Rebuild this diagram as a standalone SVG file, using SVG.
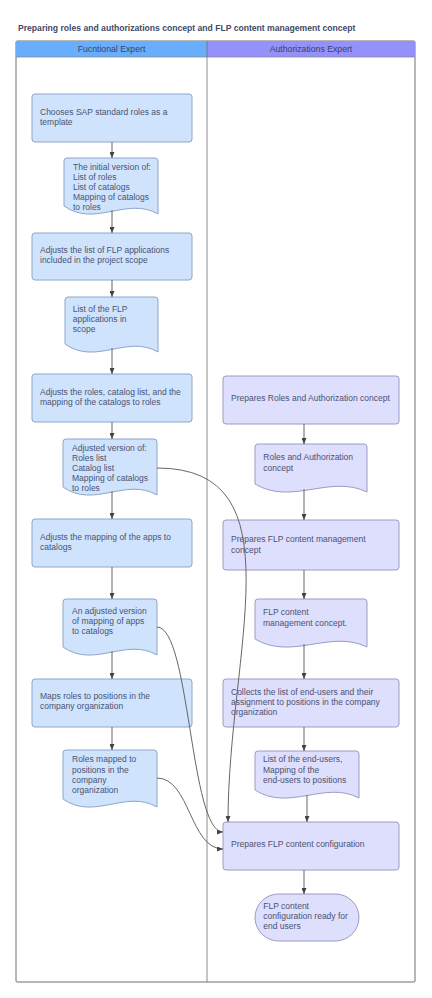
<svg xmlns="http://www.w3.org/2000/svg" width="432" height="998" viewBox="0 0 432 998">
<defs>
<marker id="ah" markerWidth="6" markerHeight="5" refX="6" refY="2.5" orient="auto" markerUnits="userSpaceOnUse"><path d="M0,0 L6,2.5 L0,5 z" fill="#444"/></marker>
</defs>
<style>
text{font-family:"Liberation Sans",Arial,sans-serif;font-size:8.5px;fill:#4a5373}
.title{font-weight:bold;font-size:8.6px;fill:#3e4a68}
.hdr{font-size:8.7px;text-anchor:middle;fill:#3a4362}
.pl{fill:#cfe3fd;stroke:#8ea6c8;stroke-width:1}
.pr{fill:#dedefd;stroke:#9c9cc4;stroke-width:1}
.cn{fill:none;stroke:#666;stroke-width:1;marker-end:url(#ah)}
</style>
<rect width="432" height="998" fill="#fff"/>
<text class="title" x="18" y="30.5">Preparing roles and authorizations concept and FLP content management concept</text>
<g id="lanes">
<rect x="16" y="41" width="399" height="941" rx="2" fill="#fff" stroke="#a0a0a0" stroke-width="1.5"/>
<path d="M16,57 V43 Q16,41 18,41 H207 V57 Z" fill="#68aefc"/>
<path d="M207,41 H413 Q415,41 415,43 V57 H207 Z" fill="#9391fa"/>
<path d="M16,57 H415" stroke="#8a8a8a" stroke-width="0.8"/>
<path d="M207,41 V982" stroke="#707070" stroke-width="0.8"/>
<text class="hdr" x="111.5" y="51.5">Fucntional Expert</text>
<text class="hdr" x="311" y="51.5">Authorizations Expert</text>
</g>
<g id="n1"><rect class="pl" x="32" y="94" width="160" height="48" rx="3"/><text x="40" y="114.7">Chooses SAP standard roles as a<tspan x="40" y="125">template</tspan></text></g>
<g id="n2"><path class="pl" d="M64,161 Q64,158 67,158 H155 Q158,158 158,161 V214 C127,196 95,228 64,206 Z"/><text x="73" y="169.5">The initial version of:<tspan x="73" y="179.7">List of roles</tspan><tspan x="73" y="189.9">List of catalogs</tspan><tspan x="73" y="200.1">Mapping of catalogs</tspan><tspan x="73" y="210.3">to roles</tspan></text></g>
<g id="n3"><rect class="pl" x="32" y="233" width="160" height="47" rx="3"/><text x="40" y="253">Adjusts the list of FLP applications<tspan x="40" y="263">included in the project scope</tspan></text></g>
<g id="n4"><path class="pl" d="M65,300 Q65,297 68,297 H155 Q158,297 158,300 V352 C127,334 96,366 65,344 Z"/><text x="72.7" y="312">List of the FLP<tspan x="72.7" y="322">applications in</tspan><tspan x="72.7" y="332">scope</tspan></text></g>
<g id="n5"><rect class="pl" x="32" y="374" width="160" height="48" rx="3"/><text x="40" y="394.7">Adjusts the roles, catalog list, and the<tspan x="40" y="404.7">mapping of the catalogs to roles</tspan></text></g>
<g id="n6"><path class="pl" d="M63,442 Q63,439 66,439 H154 Q157,439 157,442 V495 C126,477 94,509 63,487 Z"/><text x="72" y="450.5">Adjusted version of:<tspan x="72" y="460.7">Roles list</tspan><tspan x="72" y="470.9">Catalog list</tspan><tspan x="72" y="481.1">Mapping of catalogs</tspan><tspan x="72" y="491.3">to roles</tspan></text></g>
<g id="n7"><rect class="pl" x="32" y="519" width="160" height="48" rx="3"/><text x="40" y="539.7">Adjusts the mapping of the apps to<tspan x="40" y="549.7">catalogs</tspan></text></g>
<g id="n8"><path class="pl" d="M63,602 Q63,599 66,599 H154 Q157,599 157,602 V655 C126,637 94,669 63,647 Z"/><text x="72" y="613.7">An adjusted version<tspan x="72" y="624">of mapping of apps</tspan><tspan x="72" y="634">to catalogs</tspan></text></g>
<g id="n9"><rect class="pl" x="32" y="679" width="160" height="48" rx="3"/><text x="40" y="699">Maps roles to positions in the<tspan x="40" y="709">company organization</tspan></text></g>
<g id="n10"><path class="pl" d="M63,753 Q63,750 66,750 H154 Q157,750 157,753 V807 C126,789 94,821 63,799 Z"/><text x="72" y="762.3">Roles mapped to<tspan x="72" y="772.5">positions in the</tspan><tspan x="72" y="782.7">company</tspan><tspan x="72" y="792.9">organization</tspan></text></g>
<g id="r1"><rect class="pr" x="223" y="376" width="176" height="48" rx="3"/><text x="231" y="401.3">Prepares Roles and Authorization concept</text></g>
<g id="r2"><path class="pr" d="M255,447 Q255,444 258,444 H364 Q367,444 367,447 V492 C330,474 292,506 255,484 Z"/><text x="263.3" y="460.3">Roles and Authorization<tspan x="263.3" y="470.5">concept</tspan></text></g>
<g id="r3"><rect class="pr" x="223" y="520" width="176" height="50" rx="3"/><text x="231" y="542.3">Prepares FLP content management<tspan x="231" y="552.5">concept</tspan></text></g>
<g id="r4"><path class="pr" d="M255,602 Q255,599 258,599 H364 Q367,599 367,602 V647 C330,629 292,661 255,639 Z"/><text x="263" y="615.3">FLP content<tspan x="263" y="625.5">management concept.</tspan></text></g>
<g id="r5"><rect class="pr" x="223" y="679" width="176" height="48" rx="3"/><text x="231" y="694.7">Collects the list of end-users and their<tspan x="231" y="704.9">assignment to positions in the company</tspan><tspan x="231" y="715.1">organization</tspan></text></g>
<g id="r6"><path class="pr" d="M255,754 Q255,751 258,751 H356 Q359,751 359,754 V798 C325,780 289,812 255,790 Z"/><text x="263" y="762.3">List of the end-users,<tspan x="263" y="772.5">Mapping of the</tspan><tspan x="263" y="782.7">end-users to positions</tspan></text></g>
<g id="r7"><rect class="pr" x="223" y="822" width="176" height="48" rx="3"/><text x="231" y="847.3">Prepares FLP content configuration</text></g>
<g id="r8"><rect class="pr" x="255" y="894" width="104" height="47" rx="23.5"/><text x="263.3" y="909">FLP content<tspan x="263.3" y="919.2">configuration ready for</tspan><tspan x="263.3" y="929.4">end users</tspan></text></g>
<g id="connectors">
<path class="cn" d="M112,142 V158"/>
<path class="cn" d="M112,210 V233"/>
<path class="cn" d="M112,280 V297"/>
<path class="cn" d="M112,348 V374"/>
<path class="cn" d="M112,422 V439"/>
<path class="cn" d="M112,491 V519"/>
<path class="cn" d="M112,567 V599"/>
<path class="cn" d="M112,651 V679"/>
<path class="cn" d="M112,727 V750"/>
<path class="cn" d="M304,424 V444"/>
<path class="cn" d="M304,489 V520"/>
<path class="cn" d="M304,570 V599"/>
<path class="cn" d="M304,644 V679"/>
<path class="cn" d="M304,727 V751"/>
<path class="cn" d="M307,795 V822"/>
<path class="cn" d="M304,870 V894"/>
<path class="cn" d="M157,468 C300,468 228,650 228,822"/>
<path class="cn" d="M157,627 C190,627 190,832 223,832"/>
<path class="cn" d="M157,778 C190,778 190,849 223,849"/>
</g>
</svg>
